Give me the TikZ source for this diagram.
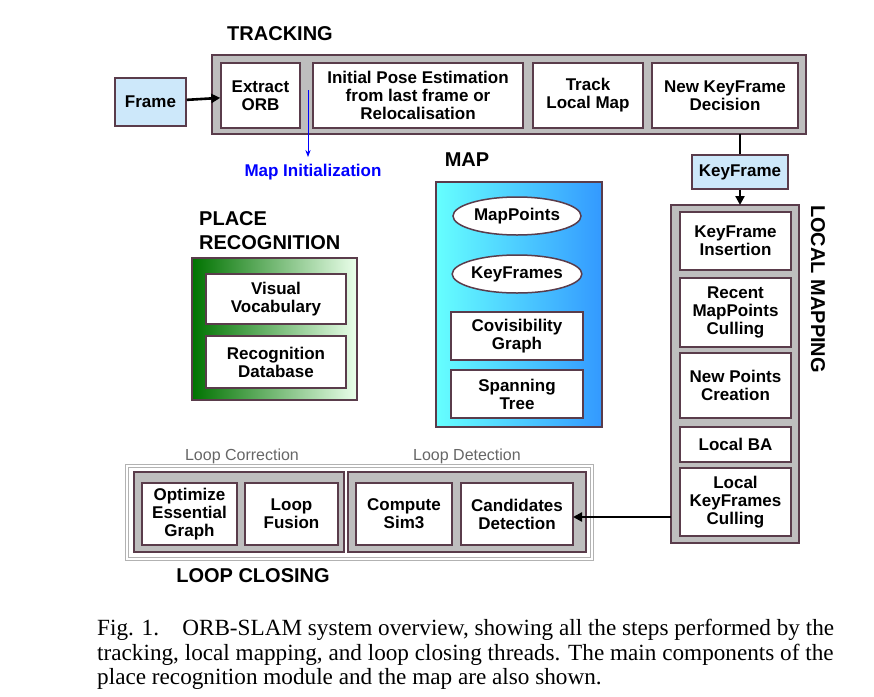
\documentclass[tikz,border=0pt]{standalone}
\usepackage{fontspec}
\setmainfont{Liberation Sans}
\newfontfamily\capfont{Liberation Serif}
\usetikzlibrary{shapes.geometric,arrows.meta}
\definecolor{bord}{RGB}{90,60,75}
\definecolor{lblue}{RGB}{205,232,250}
\definecolor{gfill}{RGB}{190,190,190}
\begin{document}
\begin{tikzpicture}[x=1pt,y=-1pt,
  every node/.style={font=\bfseries\fontsize{17}{18}\selectfont, align=center, inner sep=0pt},
  outer/.style={draw=bord, fill=gfill, line width=1.5pt},
  inbox/.style={draw=bord, fill=white, line width=1.5pt},
  blbox/.style={draw=bord, fill=lblue, line width=1.5pt},
  title/.style={font=\bfseries\fontsize{20}{24}\selectfont, align=left},
  arr/.style={-{Triangle[length=9pt,width=9pt]}, line width=2.6pt}]
\useasboundingbox (0,0) rectangle (874,696);
% TRACKING
\node[title] (tt) at (280,34) {TRACKING};
\draw[outer] (212,55) rectangle (806,134);
\node[blbox, minimum width=71, minimum height=48] (frame) at (150.5,102) {Frame};
\node[inbox, minimum width=79, minimum height=65] (orb) at (260.5,95.5) {Extract\\ORB};
\node[inbox, minimum width=210, minimum height=65] (ipe) at (418,95.5) {Initial Pose Estimation\\from last frame or\\Relocalisation};
\node[inbox, minimum width=110, minimum height=65] (tlm) at (588,95.5) {Track\\Local Map};
\node[inbox, minimum width=146, minimum height=65] (nkd) at (725,95.5) {New KeyFrame\\Decision};
\draw[arr] (frame) -- (orb);
\coordinate (mi0) at (308,90);
\coordinate (mi1) at (308,157);
\node[text=blue] (mi) at (313,172) {Map Initialization};
\draw[blue, -{Stealth[length=7pt]}, line width=0.8pt] (mi0) -- (mi1);
% MAP
\node[title] (mt) at (467,160) {MAP};
\shade[left color=cyan!60!white, right color=blue!50!cyan!80!white] (436,182) rectangle (602,427);
\draw[bord, line width=1.5pt] (436,182) rectangle (602,427);
\node[inbox, ellipse, minimum width=128, minimum height=38] (mp) at (517,216) {MapPoints};
\node[inbox, ellipse, minimum width=128, minimum height=38] (kf) at (517,274) {KeyFrames};
\node[inbox, minimum width=132, minimum height=48] (cg) at (517,336) {Covisibility\\Graph};
\node[inbox, minimum width=132, minimum height=48] (st) at (517,394) {Spanning\\Tree};
% PLACE RECOGNITION
\node[title, anchor=west] (pr) at (199,231) {PLACE\\RECOGNITION};
\shade[left color=green!45!black, right color=green!8!white] (192,258) rectangle (357,400);
\draw[bord, line width=1.5pt] (192,258) rectangle (357,400);
\node[inbox, minimum width=140, minimum height=50] (vv) at (276,299) {Visual\\Vocabulary};
\node[inbox, minimum width=140, minimum height=52] (rd) at (276,362) {Recognition\\Database};
% LOCAL MAPPING
\node[blbox, minimum width=96, minimum height=34] (kfr) at (740,172) {KeyFrame};
\draw[outer] (671,205) rectangle (799,543);
\node[inbox, minimum width=111, minimum height=58] (ki) at (735.5,241) {KeyFrame\\Insertion};
\node[inbox, minimum width=111, minimum height=69] (rmc) at (735.5,312.5) {Recent\\MapPoints\\Culling};
\node[inbox, minimum width=111, minimum height=65] (npc) at (735.5,385.5) {New Points\\Creation};
\node[inbox, minimum width=111, minimum height=35] (lba) at (735.5,444.5) {Local BA};
\node[inbox, minimum width=111, minimum height=68] (lkc) at (735.5,502) {Local\\KeyFrames\\Culling};
\node[title, rotate=-90, anchor=west] (lmt) at (818,205) {LOCAL MAPPING};
\coordinate (k0) at (740,134);
\coordinate (k1) at (740,205);
\draw[line width=2.6pt] (k0) -- (kfr.north);
\draw[arr] (kfr.south) -- (k1);
% LOOP CLOSING
\draw[gray!60, line width=0.8pt, double=white, double distance=1.5pt] (127,466) rectangle (592,559);
\draw[outer] (134,472) rectangle (344,552);
\draw[outer] (348,472) rectangle (586,552);
\node[inbox, minimum width=95, minimum height=62] (oeg) at (189.5,514) {Optimize\\Essential\\Graph};
\node[inbox, minimum width=93, minimum height=62] (lf) at (291.5,514) {Loop\\Fusion};
\node[inbox, minimum width=96, minimum height=62] (cs) at (404,514) {Compute\\Sim3};
\node[inbox, minimum width=112, minimum height=62] (cd) at (517,514) {Candidates\\Detection};
\node[font=\fontsize{16}{18}\selectfont, text=gray!80!black] (lc) at (242,456) {Loop Correction};
\node[font=\fontsize{16}{18}\selectfont, text=gray!80!black] (ld) at (467,456) {Loop Detection};
\node[title] (lct) at (253,576) {LOOP CLOSING};
\coordinate (c0) at (671,517);
\coordinate (c1) at (573,517);
\draw[arr] (c0) -- (c1);
% caption
\node[font=\capfont\fontsize{23.2}{24.5}\selectfont, align=left, anchor=north west] (cap) at (97,619)
{Fig. 1.\quad ORB-SLAM system overview, showing all the steps performed by the\\
tracking, local mapping, and loop closing threads. The main components of the\\
place recognition module and the map are also shown.};
\end{tikzpicture}
\end{document}
